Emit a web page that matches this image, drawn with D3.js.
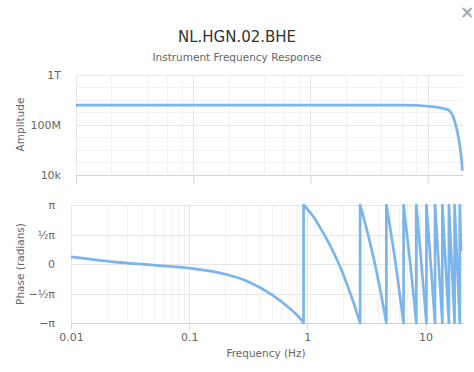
<!DOCTYPE html>
<html><head><meta charset="utf-8">
<script src="https://cdn.jsdelivr.net/npm/d3@7"></script>
<style>html,body{margin:0;padding:0;background:#fff;}svg{display:block;font-family:"DejaVu Sans",sans-serif;}</style>
</head><body><svg id="c" width="474" height="372"></svg>
<script>
const title = "NL.HGN.02.BHE";
const subtitle = "Instrument Frequency Response";
// amplitude series
const freqAmp = [0.01, 0.1, 1, 5, 8, 10, 12, 14, 15.1, 16.7, 17.9, 19.1, 19.8];
const amplitude = [3.5e9, 3.5e9, 3.5e9, 3.5e9, 3.4e9, 2.9e9, 2.4e9, 1.8e9, 1.4e9, 3e8, 2.6e7, 6.8e5, 2e4];
// phase series (units of pi); repeated frequency = wrap from -pi to +pi
const freqPhase = [0.01, 0.02, 0.05, 0.1, 0.2, 0.3, 0.5, 0.7, 0.85, 0.93,
  0.93, 1.1, 1.3, 1.5, 1.75, 2.0, 2.2, 2.4, 2.6, 2.80,
  2.80, 3.2, 3.7, 4.2, 4.67,
  4.67, 5.6, 6.53, 6.53, 7.45, 8.38, 8.38, 10.2, 10.2, 12.05, 12.05, 13.9, 13.9, 15.8, 15.8, 17.65, 17.65, 19.5, 19.5, 20.0];
const phasePi = [0.12, 0.05, -0.02, -0.07, -0.17, -0.28, -0.52, -0.74, -0.9, -1,
  1, 0.83, 0.6, 0.38, 0.11, -0.16, -0.38, -0.59, -0.8, -1,
  1, 0.57, 0.04, -0.5, -1,
  1, 0, -1, 1, 0, -1, 1, -1, 1, -1, 1, -1, 1, -1, 1, -1, 1, -1, 1, 0.22];
const ampTicks = [1e12, 1e8, 1e4];
const ampTickLabels = ["1T", "100M", "10k"];
const phaseTicks = [1, 0.5, 0, -0.5, -1];
const phaseTickLabels = ["π", "½π", "0", "−½π", "−π"];
const freqTicks = [0.01, 0.1, 1, 10];
const freqTickLabels = ["0.01", "0.1", "1", "10"];

const svg = d3.select("#c");
const lineColor = "#7cb5ec", gridMajor = "#e6e6e6", gridMinor = "#f2f2f2", axisColor = "#ccd6eb";

svg.append("text").attr("x", 237).attr("y", 42).attr("text-anchor", "middle")
  .attr("font-size", 15).attr("fill", "#333").text(title);
svg.append("text").attr("x", 237).attr("y", 61).attr("text-anchor", "middle")
  .attr("font-size", 10.5).attr("fill", "#666").text(subtitle);
svg.append("text").attr("x", 467).attr("y", 18).attr("text-anchor", "middle")
  .attr("font-size", 17).attr("font-weight", "bold").attr("fill", "#aaa").text("×");

function minors(domain, mults) {
  const out = [];
  for (let e = -2; e <= 2; e++) for (const m of mults) {
    const v = m * Math.pow(10, e);
    if (v > domain[0] && v < domain[1]) out.push(v);
  }
  return out;
}

// ---------- Amplitude panel ----------
const xA = d3.scaleLog().domain([0.01, 20]).range([76, 463]);
const yA = d3.scaleLog().domain([1e4, 1e12]).range([174.5, 74.5]);
const gA = svg.append("g");
const ampDecades = d3.range(4, 13).map(e => Math.pow(10, e));
gA.selectAll("line.hg").data(ampDecades).join("line")
  .attr("x1", xA.range()[0]).attr("x2", xA.range()[1])
  .attr("y1", d => Math.round(yA(d)) + 0.5).attr("y2", d => Math.round(yA(d)) + 0.5)
  .attr("stroke", d => ampTicks.includes(d) ? gridMajor : gridMinor);
gA.selectAll("line.vm").data(minors(xA.domain(), [2, 4, 6, 8])).join("line")
  .attr("x1", d => Math.round(xA(d)) + 0.5).attr("x2", d => Math.round(xA(d)) + 0.5)
  .attr("y1", yA.range()[1]).attr("y2", yA.range()[0]).attr("stroke", gridMinor);
gA.selectAll("line.vM").data(freqTicks).join("line")
  .attr("x1", d => Math.round(xA(d)) + 0.5).attr("x2", d => Math.round(xA(d)) + 0.5)
  .attr("y1", yA.range()[1]).attr("y2", yA.range()[0]).attr("stroke", gridMajor);
const axA = gA.append("g").attr("transform", `translate(0,${Math.round(yA.range()[0]) + 0.5})`)
  .call(d3.axisBottom(xA).tickValues(freqTicks).tickSize(8).tickFormat(""));
axA.select(".domain").attr("stroke", axisColor).attr("d", `M${xA.range()[0]},0H${xA.range()[1]}`);
axA.selectAll(".tick line").attr("stroke", axisColor);
const ayA = gA.append("g").attr("transform", "translate(61,0)")
  .call(d3.axisLeft(yA).tickValues(ampTicks).tickSize(0).tickPadding(0)
    .tickFormat((d, i) => ampTickLabels[i]));
ayA.select(".domain").remove();
ayA.selectAll("text").attr("font-size", 11).attr("fill", "#666").attr("font-family", "DejaVu Sans");
svg.append("text").attr("transform", `translate(24,${(yA.range()[0] + yA.range()[1]) / 2}) rotate(-90)`)
  .attr("text-anchor", "middle").attr("font-size", 10.5).attr("fill", "#666").text("Amplitude");
gA.append("path").datum(freqAmp.map((f, i) => [f, amplitude[i]]))
  .attr("fill", "none").attr("stroke", lineColor).attr("stroke-width", 2.7)
  .attr("stroke-linejoin", "round")
  .attr("d", d3.line().x(d => xA(d[0])).y(d => yA(d[1])).curve(d3.curveMonotoneX));

// ---------- Phase panel ----------
const xP = d3.scaleLog().domain([0.01, 21.2]).range([71, 464]);
const yP = d3.scaleLinear().domain([-1, 1]).range([323, 205]);
const gP = svg.append("g");
gP.selectAll("line.vm").data(minors(xP.domain(), [2, 3, 4, 5, 6, 7, 8, 9])).join("line")
  .attr("x1", d => Math.round(xP(d)) + 0.5).attr("x2", d => Math.round(xP(d)) + 0.5)
  .attr("y1", yP.range()[1]).attr("y2", yP.range()[0]).attr("stroke", gridMinor);
gP.selectAll("line.vM").data(freqTicks).join("line")
  .attr("x1", d => Math.round(xP(d)) + 0.5).attr("x2", d => Math.round(xP(d)) + 0.5)
  .attr("y1", yP.range()[1]).attr("y2", yP.range()[0]).attr("stroke", gridMajor);
gP.selectAll("line.hg").data(phaseTicks).join("line")
  .attr("x1", xP.range()[0]).attr("x2", xP.range()[1])
  .attr("y1", d => Math.round(yP(d)) + 0.5).attr("y2", d => Math.round(yP(d)) + 0.5)
  .attr("stroke", gridMajor);
const axP = gP.append("g").attr("transform", `translate(0,${Math.round(yP.range()[0]) + 0.5})`)
  .call(d3.axisBottom(xP).tickValues(freqTicks).tickSize(6).tickPadding(4)
    .tickFormat((d, i) => freqTickLabels[i]));
axP.select(".domain").attr("stroke", axisColor).attr("d", `M${xP.range()[0]},0H${xP.range()[1]}`);
axP.selectAll(".tick line").attr("stroke", axisColor);
axP.selectAll("text").attr("font-size", 11).attr("fill", "#666").attr("font-family", "DejaVu Sans");
const ayP = gP.append("g").attr("transform", "translate(55,0)")
  .call(d3.axisLeft(yP).tickValues(phaseTicks).tickSize(0).tickPadding(0)
    .tickFormat((d, i) => phaseTickLabels[i]));
ayP.select(".domain").remove();
ayP.selectAll("text").attr("font-size", 11).attr("fill", "#666").attr("font-family", "DejaVu Sans");
svg.append("text").attr("transform", `translate(24,${(yP.range()[0] + yP.range()[1]) / 2}) rotate(-90)`)
  .attr("text-anchor", "middle").attr("font-size", 10.5).attr("fill", "#666").text("Phase (radians)");
svg.append("text").attr("x", 266).attr("y", 357).attr("text-anchor", "middle")
  .attr("font-size", 10.5).attr("fill", "#666").text("Frequency (Hz)");
// split phase into continuous segments at wraps, smooth each, join with vertical jumps
const pts = freqPhase.map((f, i) => [f, phasePi[i]]);
const segs = [];
let cur = [pts[0]];
for (let i = 1; i < pts.length; i++) {
  if (pts[i][0] === pts[i - 1][0]) { segs.push(cur); cur = [pts[i]]; }
  else cur.push(pts[i]);
}
segs.push(cur);
const segLine = d3.line().x(d => xP(d[0])).y(d => yP(d[1])).curve(d3.curveMonotoneX);
let dStr = "";
segs.forEach((s, k) => {
  const p = segLine(s);
  dStr += k === 0 ? p : "L" + p.slice(1);
});
gP.append("path").attr("d", dStr)
  .attr("fill", "none").attr("stroke", lineColor).attr("stroke-width", 2.7)
  .attr("stroke-linejoin", "round");
</script></body></html>
